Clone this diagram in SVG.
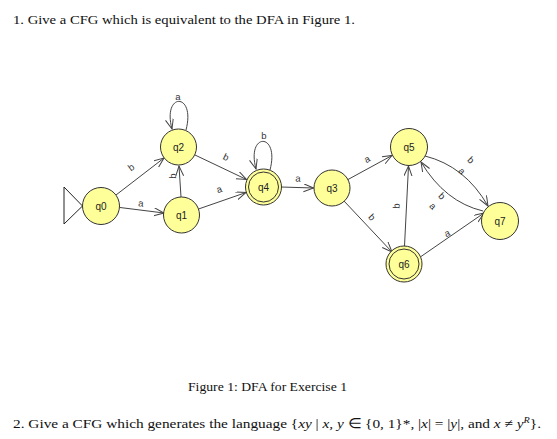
<svg xmlns="http://www.w3.org/2000/svg" width="557" height="439" viewBox="0 0 557 439">
<style>
.doc{font-family:"Liberation Serif","Times New Roman",serif;font-size:13.5px;fill:#111}
.node circle{fill:#ffff99;stroke:#333;stroke-width:1}
.node text{font-family:"Liberation Sans",Arial,sans-serif;font-size:10px;fill:#222;text-anchor:middle;dominant-baseline:central}
.edge{fill:none;stroke:#444;stroke-width:1;marker-end:url(#arr)}
.lbl{font-family:"Liberation Sans",Arial,sans-serif;font-size:9.5px;fill:#333;text-anchor:middle;dominant-baseline:central}
</style>
<defs>
<marker id="arr" markerUnits="userSpaceOnUse" markerWidth="12" markerHeight="10" refX="10" refY="4" orient="auto">
<path d="M0,0 L10,4 L0,8" fill="none" stroke="#444" stroke-width="1"/>
</marker>
</defs>
<rect width="557" height="439" fill="#fff"/>
<text class="doc" x="13" y="24" textLength="342" lengthAdjust="spacingAndGlyphs">1. Give a CFG which is equivalent to the DFA in Figure 1.</text>

<g id="connectors">
<path class="edge" d="M116,195 L164,158"/>
<path class="edge" d="M120,207.5 L164,213"/>
<path class="edge" d="M181,197 L179,166"/>
<path class="edge" d="M198.5,209 L246,192.5"/>
<path class="edge" d="M195,155 L246.5,179.5"/>
<path class="edge" d="M281,187 L313.5,188"/>
<path class="edge" d="M348,179.5 L392,155.5"/>
<path class="edge" d="M344,201 L392,252"/>
<path class="edge" d="M404.5,246 L408.5,166"/>
<path class="edge" d="M421,256.5 L484,213"/>
<path class="edge" d="M425,156 Q465,166 488,206"/>
<path class="edge" d="M483,211 Q445,202 421,162"/>
<path class="edge" d="M186,130 C196,92 162,92 172,129"/>
<path class="edge" d="M270,170 C280,132 246,132 256,169"/>
<path d="M82.5,206 L64,187 L64,224 Z" fill="none" stroke="#222" stroke-width="1"/>
<text class="lbl" x="178" y="96">a</text>
<text class="lbl" x="264" y="135">b</text>
<text class="lbl" transform="translate(131,167) rotate(-37)">b</text>
<text class="lbl" transform="translate(141,203) rotate(5)">a</text>
<text class="lbl" transform="translate(172,176) rotate(-90)">b</text>
<text class="lbl" transform="translate(219,189) rotate(-19)">a</text>
<text class="lbl" transform="translate(226,157) rotate(25)">b</text>
<text class="lbl" transform="translate(298,178) rotate(1)">a</text>
<text class="lbl" transform="translate(367,159) rotate(-28)">a</text>
<text class="lbl" transform="translate(372,217) rotate(47)">b</text>
<text class="lbl" transform="translate(396,206) rotate(-88)">b</text>
<text class="lbl" transform="translate(447,233) rotate(-24)">a</text>
<text class="lbl" transform="translate(462,171) rotate(45)">a</text>
<text class="lbl" transform="translate(471,160) rotate(45)">b</text>
<text class="lbl" transform="translate(442,196) rotate(45)">b</text>
<text class="lbl" transform="translate(433,206) rotate(45)">a</text>
</g>

<g id="q0" class="node"><circle cx="101" cy="206" r="18.5"/><text x="101" y="206">q0</text></g>
<g id="q1" class="node"><circle cx="181.5" cy="215" r="18"/><text x="181.5" y="215">q1</text></g>
<g id="q2" class="node"><circle cx="178.5" cy="147" r="18"/><text x="178.5" y="147">q2</text></g>
<g id="q4" class="node"><circle cx="263.5" cy="187" r="18"/><circle cx="263.5" cy="187" r="15"/><text x="263.5" y="187">q4</text></g>
<g id="q3" class="node"><circle cx="332" cy="188" r="18"/><text x="332" y="188">q3</text></g>
<g id="q5" class="node"><circle cx="409" cy="147" r="18.5"/><text x="409" y="147">q5</text></g>
<g id="q6" class="node"><circle cx="404" cy="264" r="18"/><circle cx="404" cy="264" r="15"/><text x="404" y="264">q6</text></g>
<g id="q7" class="node"><circle cx="500" cy="221" r="18.5"/><text x="500" y="221">q7</text></g>

<text class="doc" x="188" y="390.5" textLength="159" lengthAdjust="spacingAndGlyphs">Figure 1: DFA for Exercise 1</text>
<text class="doc" x="13" y="428" textLength="528" lengthAdjust="spacingAndGlyphs">2. Give a CFG which generates the language {<tspan font-style="italic">xy</tspan> | <tspan font-style="italic">x, y</tspan> ∈ {0, 1}*, |<tspan font-style="italic">x</tspan>| = |<tspan font-style="italic">y</tspan>|, and <tspan font-style="italic">x</tspan> ≠ <tspan font-style="italic">y</tspan><tspan font-size="9" dy="-5" font-style="italic">R</tspan><tspan dy="5">}.</tspan></text>
</svg>
